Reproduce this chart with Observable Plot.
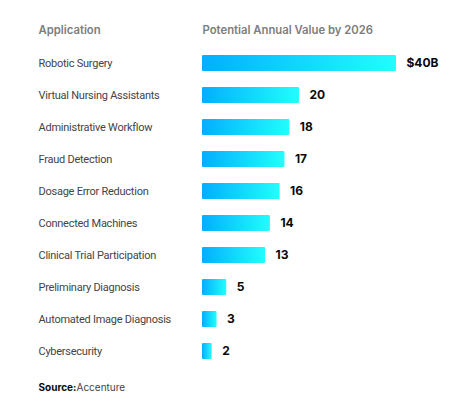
<!DOCTYPE html>
<html>
<head>
<meta charset="utf-8">
<script src="https://cdn.jsdelivr.net/npm/d3@7"></script>
<script src="https://cdn.jsdelivr.net/npm/@observablehq/plot@0.6"></script>
<style>
html,body{margin:0;padding:0;background:#fff}
svg{display:block}
g[aria-label="y-axis tick label"]{letter-spacing:-0.25px}
</style>
</head>
<body>
<div id="chart"></div>
<script>
const applications = ["Robotic Surgery","Virtual Nursing Assistants","Administrative Workflow","Fraud Detection","Dosage Error Reduction","Connected Machines","Clinical Trial Participation","Preliminary Diagnosis","Automated Image Diagnosis","Cybersecurity"];
const values = [40,20,18,17,16,14,13,5,3,2];
const valueLabels = ["$40B","20","18","17","16","14","13","5","3","2"];
const rows = applications.map((application,i)=>({application,value:values[i],label:valueLabels[i]}));
const heading = '"Inter","Open Sans",sans-serif';

function gradient(){
  const defs = d3.create("svg:defs");
  const g = defs.append("linearGradient").attr("id","barFill").attr("x1","0").attr("x2","1").attr("y1","0").attr("y2","0");
  g.append("stop").attr("offset","0%").attr("stop-color","#03aeff");
  g.append("stop").attr("offset","100%").attr("stop-color","#22fdfd");
  return defs.node();
}

const chart = Plot.plot({
  width:474,height:409,
  marginLeft:202,marginRight:78,marginTop:46,marginBottom:41,
  style:{background:"#fff",fontFamily:"Roboto,sans-serif"},
  x:{domain:[0,40],axis:null},
  y:{domain:applications,paddingInner:0.5,paddingOuter:0.25,align:0.5,label:null},
  marks:[
    gradient,
    Plot.axisY({anchor:"left",tickSize:0,tickPadding:0,textAnchor:"start",dx:-164,fontSize:11,fill:"#444",label:null}),
    Plot.barX(rows,{x:"value",y:"application",fill:"url(#barFill)",rx:1}),
    Plot.text(rows,{x:"value",y:"application",text:"label",textAnchor:"start",dx:10,fontSize:12,fontWeight:700,fill:"#0a0a0a",fontFamily:heading}),
    Plot.text(["Application"],{frameAnchor:"top-left",dx:-164,dy:-20.5,textAnchor:"start",fontSize:11.3,fontWeight:600,fill:"#7d7d7d",fontFamily:heading}),
    Plot.text(["Potential Annual Value by 2026"],{frameAnchor:"top-left",dy:-20.5,textAnchor:"start",fontSize:11.3,fontWeight:600,fill:"#7d7d7d",fontFamily:heading}),
    Plot.text(["Source:"],{frameAnchor:"bottom-left",dx:-164,dy:22,textAnchor:"start",fontSize:10,fontWeight:700,fill:"#0a0a0a",fontFamily:heading}),
    Plot.text(["Accenture"],{frameAnchor:"bottom-left",dx:-126,dy:22,textAnchor:"start",fontSize:10,fill:"#444",fontFamily:heading})
  ]
});
document.getElementById("chart").append(chart);
</script>
</body>
</html>
